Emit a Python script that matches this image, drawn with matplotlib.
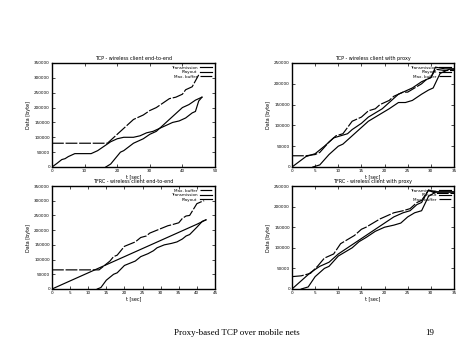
import matplotlib
matplotlib.use("Agg")
import matplotlib.pyplot as plt

# ---------------- data ----------------
# Panel 1: TCP, wireless client, end-to-end
tl_tx_t = [0, 1.5, 3, 4, 5, 7, 9, 12, 14, 16, 18, 20, 22, 25, 27, 29, 31, 33, 35, 37, 39, 41, 43, 44, 45, 46]
tl_tx_v = [0, 12000, 25000, 28000, 35000, 45000, 45000, 45000, 55000, 70000, 85000, 95000, 100000, 100000, 105000, 115000, 120000, 130000, 140000, 150000, 155000, 165000, 182000, 187000, 222000, 235000]
tl_pl_t = [16.5, 18, 19.5, 21, 22, 25, 27, 28, 30, 32, 34, 36, 38, 40, 42, 44, 46]
tl_pl_v = [0, 10000, 30000, 50000, 55000, 80000, 90000, 95000, 110000, 120000, 140000, 160000, 180000, 200000, 210000, 225000, 235000]
tl_mb_t = [0, 17, 19, 21, 22, 23.5, 25, 27, 28, 30, 32, 34, 36, 38, 40, 41, 43, 44.5, 45]
tl_mb_v = [80000, 80000, 100000, 120000, 130000, 145000, 160000, 170000, 175000, 190000, 200000, 215000, 230000, 235000, 245000, 260000, 270000, 300000, 310000]

# Panel 2: TCP, wireless client with proxy
tr_tx_t = [0, 3, 5, 7, 9, 10.5, 12, 13, 15, 16.5, 18, 19.5, 21, 23, 24, 26, 28, 29, 30, 31, 33, 35]
tr_tx_v = [0, 25000, 32000, 50000, 70000, 75000, 80000, 90000, 105000, 120000, 130000, 140000, 155000, 175000, 180000, 190000, 205000, 210000, 215000, 240000, 236000, 236000]
tr_pl_t = [4.5, 6, 8, 10, 11, 13.5, 15, 16.5, 18, 19.5, 21, 23, 24.5, 26, 28, 29.5, 30.5, 32, 34, 35]
tr_pl_v = [0, 5000, 30000, 50000, 55000, 80000, 95000, 110000, 120000, 130000, 140000, 155000, 155000, 160000, 175000, 185000, 190000, 225000, 235000, 235000]
tr_mb_t = [0, 3, 5, 6, 8, 9.5, 11, 12, 13, 14, 15, 16.5, 18, 19, 21, 22, 24, 25, 26.5, 28, 29, 30, 31, 33, 35]
tr_mb_v = [27000, 27000, 30000, 35000, 60000, 75000, 80000, 95000, 110000, 115000, 120000, 135000, 140000, 150000, 160000, 170000, 180000, 180000, 190000, 200000, 210000, 215000, 235000, 232000, 232000]

# Panel 3: TFRC, wireless client, end-to-end
bl_mb_t = [0, 13, 14, 16, 17, 18, 19, 20, 21, 22, 23, 24.5, 26, 27, 29, 31, 32, 33, 35, 36, 37, 38, 39, 40, 41.5, 42]
bl_mb_v = [65000, 65000, 75000, 95000, 110000, 115000, 130000, 145000, 150000, 155000, 160000, 175000, 180000, 190000, 200000, 210000, 215000, 218000, 225000, 240000, 248000, 250000, 270000, 290000, 298000, 300000]
bl_tx_t = [0, 10, 20, 30, 40, 42.5]
bl_tx_v = [0, 55000, 110000, 165000, 220000, 235000]
bl_pl_t = [12.5, 13.5, 15, 17, 18, 20, 21, 23, 24.5, 26.5, 28, 29, 31, 33, 34.5, 36, 37, 38, 40, 41.5, 42.5]
bl_pl_v = [0, 5000, 30000, 50000, 55000, 80000, 85000, 95000, 110000, 120000, 130000, 140000, 150000, 155000, 160000, 170000, 180000, 185000, 210000, 230000, 235000]

# Panel 4: TFRC, wireless client with proxy
br_tx_t = [0, 2, 4, 6, 8, 10, 12, 14, 16, 18, 20, 22, 24, 25.5, 27, 28, 29.5, 31, 33, 35]
br_tx_v = [0, 20000, 40000, 55000, 65000, 85000, 100000, 115000, 130000, 145000, 160000, 175000, 185000, 190000, 205000, 210000, 240000, 236000, 236000, 236000]
br_pl_t = [2, 3.5, 5, 7, 8, 10, 11.5, 13, 14.5, 16, 18, 20, 22, 23.5, 25, 26.5, 28, 29.5, 31, 33, 35]
br_pl_v = [0, 5000, 30000, 50000, 55000, 80000, 90000, 100000, 115000, 125000, 140000, 150000, 155000, 160000, 175000, 185000, 190000, 225000, 235000, 235000, 235000]
br_mb_t = [0, 2, 4, 5.5, 7, 8, 9, 10.5, 12, 13.5, 15, 16, 17.5, 19, 20, 22, 24, 25.5, 27, 28, 29.5, 31, 33, 35]
br_mb_v = [30000, 32000, 38000, 55000, 75000, 80000, 85000, 110000, 120000, 130000, 145000, 150000, 160000, 170000, 175000, 185000, 190000, 195000, 210000, 215000, 240000, 232000, 232000, 232000]

titles = ["TCP - wireless client end-to-end", "TCP - wireless client with proxy",
          "TFRC - wireless client end-to-end", "TFRC - wireless client with proxy"]
xlabel = "t [sec]"
ylabel = "Data [byte]"
footer = "Proxy-based TCP over mobile nets"
page = "19"

# ---------------- drawing ----------------
W, H = 474, 355
fig = plt.figure(figsize=(W / 100, H / 100), dpi=100)
fig.patch.set_facecolor("white")

def rect(l, t, r, b):
    return [l / W, 1 - b / H, (r - l) / W, (b - t) / H]

styles = {"Transmission": dict(ls="-", lw=0.85),
          "Playout": dict(ls="-", lw=0.85),
          "Max. buffer": dict(ls=(0, (10, 1.5)), lw=0.85)}

panels = [
    (rect(52, 63, 215, 167), titles[0], 50, 350000, 10, 50000,
     [("Transmission", tl_tx_t, tl_tx_v), ("Playout", tl_pl_t, tl_pl_v), ("Max. buffer", tl_mb_t, tl_mb_v)]),
    (rect(292, 63, 454, 167), titles[1], 35, 250000, 5, 50000,
     [("Transmission", tr_tx_t, tr_tx_v), ("Playout", tr_pl_t, tr_pl_v), ("Max. buffer", tr_mb_t, tr_mb_v)]),
    (rect(52, 186, 215, 289), titles[2], 45, 350000, 5, 50000,
     [("Max. buffer", bl_mb_t, bl_mb_v), ("Transmission", bl_tx_t, bl_tx_v), ("Playout", bl_pl_t, bl_pl_v)]),
    (rect(292, 186, 454, 289), titles[3], 35, 250000, 5, 50000,
     [("Transmission", br_tx_t, br_tx_v), ("Playout", br_pl_t, br_pl_v), ("Max. buffer", br_mb_t, br_mb_v)]),
]

for pos, title, xmax, ymax, xstep, ystep, series in panels:
    ax = fig.add_axes(pos)
    for name, t, v in series:
        ax.plot(t, v, color="black", label=name, **styles[name])
    ax.set_xlim(0, xmax)
    ax.set_ylim(0, ymax)
    ax.set_xticks(range(0, xmax + 1, xstep))
    ax.set_yticks(range(0, ymax + 1, ystep))
    ax.tick_params(direction="in", length=2, width=0.5, labelsize=3, pad=1.5,
                   top=True, right=True, colors="black")
    for sp in ax.spines.values():
        sp.set_linewidth(1.0)
    ax.set_title(title, fontsize=3.5, pad=2)
    ax.set_xlabel(xlabel, fontsize=3.5, labelpad=1)
    ax.set_ylabel(ylabel, fontsize=3.5, labelpad=2)
    ax.legend(loc="upper right", fontsize=3, frameon=False, markerfirst=False,
              handlelength=3, handletextpad=0.5, labelspacing=0.1,
              borderaxespad=0.3)

fig.text(237 / W, 1 - 333 / H, footer, fontsize=6.5, family="Liberation Serif",
         ha="center", va="center")
fig.text(430 / W, 1 - 333 / H, page, fontsize=6.5, family="Liberation Serif",
         ha="center", va="center")

fig.savefig("out.png", dpi=100, facecolor="white")
